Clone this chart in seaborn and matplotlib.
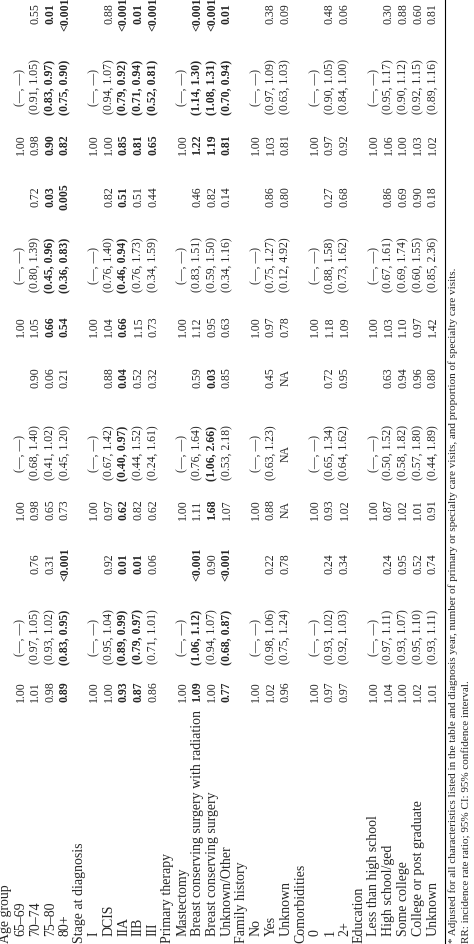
import matplotlib
matplotlib.use("Agg")
import matplotlib.pyplot as plt
import seaborn as sns

sns.set_theme(style="white")
plt.rcParams['font.family'] = ['Liberation Serif', 'DejaVu Serif']

# table rows (the table is printed rotated 90 degrees)
labels = ["Age group", "65–69", "70–74", "75–80", "80+",
          "Stage at diagnosis", "I", "DCIS", "IIA", "IIB", "III",
          "Primary therapy", "Mastectomy", "Breast conserving surgery with radiation",
          "Breast conserving surgery", "Unknown/Other",
          "Family history", "No", "Yes", "Unknown",
          "Comorbidities", "0", "1", "2+",
          "Education", "Less than high school", "High school/ged", "Some college",
          "College or post graduate", "Unknown"]
headers = [0, 5, 11, 16, 20, 24]

D = "(—, —)"
rr1 = ["", "1.00", "1.01", "0.98", "0.89", "", "1.00", "1.00", "0.93", "0.87", "0.86",
       "", "1.00", "1.09", "1.00", "0.77", "", "1.00", "1.02", "0.96", "", "1.00", "0.97", "0.97",
       "", "1.00", "1.04", "1.00", "1.02", "1.01"]
ci1 = ["", D, "(0.97, 1.05)", "(0.93, 1.02)", "(0.83, 0.95)", "", D, "(0.95, 1.04)", "(0.89, 0.99)",
       "(0.79, 0.97)", "(0.71, 1.01)", "", D, "(1.06, 1.12)", "(0.94, 1.07)", "(0.68, 0.87)",
       "", D, "(0.98, 1.06)", "(0.75, 1.24)", "", D, "(0.93, 1.02)", "(0.92, 1.03)",
       "", D, "(0.97, 1.11)", "(0.93, 1.07)", "(0.95, 1.10)", "(0.93, 1.11)"]
p1 = ["", "", "0.76", "0.31", "<0.001", "", "", "0.92", "0.01", "0.01", "0.06",
      "", "", "<0.001", "0.90", "<0.001", "", "", "0.22", "0.78", "", "", "0.24", "0.34",
      "", "", "0.24", "0.95", "0.52", "0.74"]
rr2 = ["", "1.00", "0.98", "0.65", "0.73", "", "1.00", "0.97", "0.62", "0.82", "0.62",
       "", "1.00", "1.11", "1.68", "1.07", "", "1.00", "0.88", "NA", "", "1.00", "0.93", "1.02",
       "", "1.00", "0.87", "1.02", "1.01", "0.91"]
ci2 = ["", D, "(0.68, 1.40)", "(0.41, 1.02)", "(0.45, 1.20)", "", D, "(0.67, 1.42)", "(0.40, 0.97)",
       "(0.44, 1.52)", "(0.24, 1.61)", "", D, "(0.76, 1.64)", "(1.06, 2.66)", "(0.53, 2.18)",
       "", D, "(0.63, 1.23)", "NA", "", D, "(0.65, 1.34)", "(0.64, 1.62)",
       "", D, "(0.50, 1.52)", "(0.58, 1.82)", "(0.57, 1.80)", "(0.44, 1.89)"]
p2 = ["", "", "0.90", "0.06", "0.21", "", "", "0.88", "0.04", "0.52", "0.32",
      "", "", "0.59", "0.03", "0.85", "", "", "0.45", "NA", "", "", "0.72", "0.95",
      "", "", "0.63", "0.94", "0.96", "0.80"]
rr3 = ["", "1.00", "1.05", "0.66", "0.54", "", "1.00", "1.04", "0.66", "1.15", "0.73",
       "", "1.00", "1.12", "0.95", "0.63", "", "1.00", "0.97", "0.78", "", "1.00", "1.18", "1.09",
       "", "1.00", "1.03", "1.10", "0.97", "1.42"]
ci3 = ["", D, "(0.80, 1.39)", "(0.45, 0.96)", "(0.36, 0.83)", "", D, "(0.76, 1.40)", "(0.46, 0.94)",
       "(0.76, 1.73)", "(0.34, 1.59)", "", D, "(0.83, 1.51)", "(0.59, 1.50)", "(0.34, 1.16)",
       "", D, "(0.75, 1.27)", "(0.12, 4.92)", "", D, "(0.88, 1.58)", "(0.73, 1.62)",
       "", D, "(0.67, 1.61)", "(0.69, 1.74)", "(0.60, 1.55)", "(0.85, 2.36)"]
p3 = ["", "", "0.72", "0.03", "0.005", "", "", "0.82", "0.51", "0.51", "0.44",
      "", "", "0.46", "0.82", "0.14", "", "", "0.86", "0.80", "", "", "0.27", "0.68",
      "", "", "0.86", "0.69", "0.90", "0.18"]
rr4 = ["", "1.00", "0.98", "0.90", "0.82", "", "1.00", "1.00", "0.85", "0.81", "0.65",
       "", "1.00", "1.22", "1.19", "0.81", "", "1.00", "1.03", "0.81", "", "1.00", "0.97", "0.92",
       "", "1.00", "1.06", "1.00", "1.03", "1.02"]
ci4 = ["", D, "(0.91, 1.05)", "(0.83, 0.97)", "(0.75, 0.90)", "", D, "(0.94, 1.07)", "(0.79, 0.92)",
       "(0.71, 0.94)", "(0.52, 0.81)", "", D, "(1.14, 1.30)", "(1.08, 1.31)", "(0.70, 0.94)",
       "", D, "(0.97, 1.09)", "(0.63, 1.03)", "", D, "(0.90, 1.05)", "(0.84, 1.00)",
       "", D, "(0.95, 1.17)", "(0.90, 1.12)", "(0.92, 1.15)", "(0.89, 1.16)"]
p4 = ["", "", "0.55", "0.01", "<0.001", "", "", "0.88", "<0.001", "0.01", "<0.001",
      "", "", "<0.001", "<0.001", "0.01", "", "", "0.38", "0.09", "", "", "0.48", "0.06",
      "", "", "0.30", "0.88", "0.60", "0.81"]

# rows printed in bold (significant) for each outcome
bold1 = [4, 8, 9, 13, 15]
bold2 = [8, 14]
bold3 = [3, 4, 8]
bold4 = [3, 4, 8, 9, 10, 13, 14, 15]

footnotes = ["* Adjusted for all characteristics listed in the table and diagnosis year, "
             "number of primary or specialty care visits, and proportion of specialty care visits.",
             "RR: incidence rate ratio; 95% CI: 95% confidence interval."]

W, H = 474, 945
fig = plt.figure(figsize=(W / 100, H / 100), dpi=100)
ax = fig.add_axes([0, 0, 1, 1])
ax.set_xlim(0, W)
ax.set_ylim(H, 0)
ax.axis("off")

row_x = [6 + i * 14.72 for i in range(len(labels))]
fs_lab, fs_num = 10, 8.5

for i, lab in enumerate(labels):
    y = 943 if i in headers else 936
    ax.text(row_x[i], y, lab, rotation=90, ha="center", va="bottom", fontsize=fs_lab)

groups = [(rr1, ci1, p1, bold1), (rr2, ci2, p2, bold2),
          (rr3, ci3, p3, bold3), (rr4, ci4, p4, bold4)]
col_y = [(692, 637, 564), (510, 453, 378), (327, 265, 197), (145, 87, 14)]
for (rr, ci, pv, bold), ys in zip(groups, col_y):
    for i in range(len(labels)):
        w = "bold" if i in bold else "normal"
        for vals, y in zip((rr, ci, pv), ys):
            if vals[i]:
                ax.text(row_x[i], y, vals[i], rotation=90, ha="center", va="center",
                        fontsize=fs_num, fontweight=w)

ax.axvline(445, color="black", lw=0.8)
ax.text(453, 943, footnotes[0], rotation=90, ha="center", va="bottom", fontsize=8)
ax.text(467, 943, footnotes[1], rotation=90, ha="center", va="bottom", fontsize=8)

fig.savefig("out.png", dpi=100)
